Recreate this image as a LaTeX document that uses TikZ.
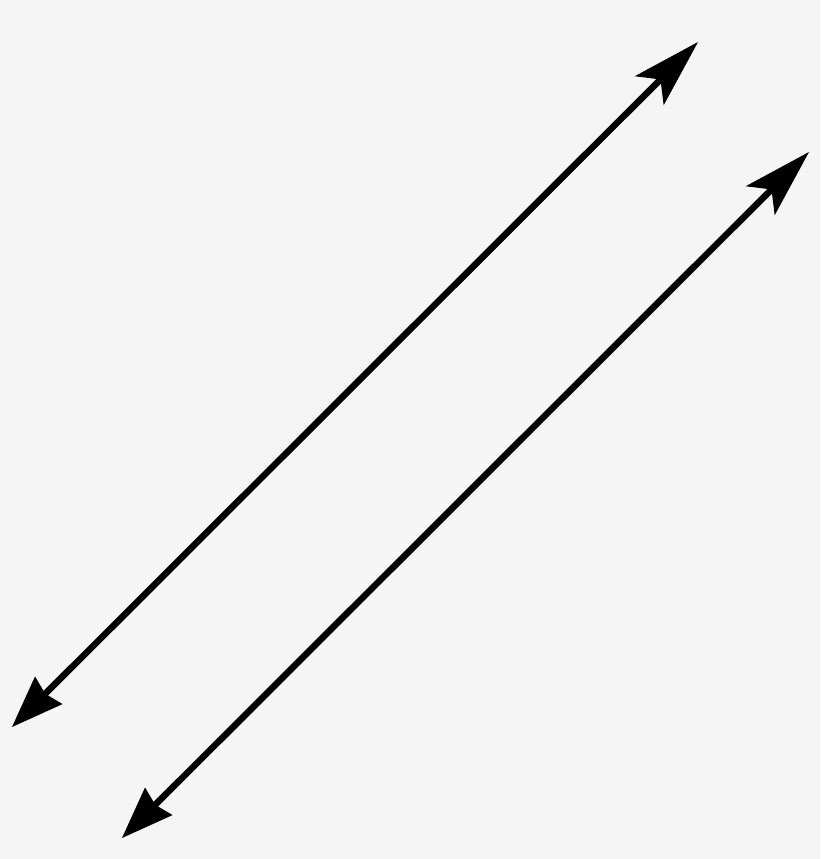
\documentclass[tikz,border=0pt]{standalone}
\usetikzlibrary{arrows.meta}
\definecolor{paper}{RGB}{245,245,245}
\begin{document}
\begin{tikzpicture}[x=1pt, y=-1pt,
	line/.style={draw, line width=6.5pt,
		{Stealth[length=52pt, width=39pt, inset=5pt, line width=0pt]}-{Stealth[length=69pt, width=41pt, inset=16pt, line width=0pt]}}]

	%% The paper
	\fill[paper] (0,0) rectangle (820,859);
	\useasboundingbox (0,0) rectangle (820,859);

	%% The ends of the lines
	\coordinate (1-a) at ( 12,727);
	\coordinate (1-b) at (698, 42);
	\coordinate (2-a) at (122,838);
	\coordinate (2-b) at (809,152);

	%% The two parallel lines
	\draw[line] (1-a) -- (1-b);
	\draw[line] (2-a) -- (2-b);

\end{tikzpicture}
\end{document}
